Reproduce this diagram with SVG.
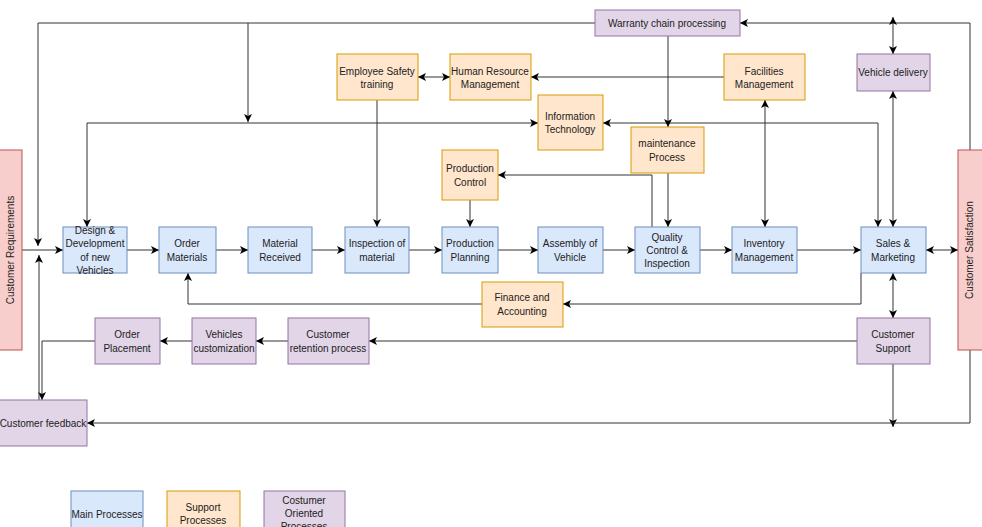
<svg xmlns="http://www.w3.org/2000/svg" width="982" height="527" viewBox="0 0 982 527">
<style>
text{font-family:"Liberation Sans",Arial,sans-serif;font-size:10px;fill:#222;text-anchor:middle}
.main{fill:#dae8fc;stroke:#6c8ebf}
.sup{fill:#ffe6cc;stroke:#d79b00}
.cust{fill:#e1d5e7;stroke:#9673a6}
.edge{fill:#f8cecc;stroke:#b85450}
.c{fill:none;stroke:#333;stroke-width:1}
.a{marker-end:url(#ar)}
.b{marker-start:url(#ar);marker-end:url(#ar)}
</style>
<defs>
<marker id="ar" viewBox="0 0 8 8" refX="8" refY="4" markerWidth="8" markerHeight="8" markerUnits="userSpaceOnUse" orient="auto-start-reverse">
<path d="M0,0 L8,4 L0,8 L2,4 z" fill="#000"/>
</marker>
</defs>
<rect width="982" height="527" fill="#fff"/>
<g id="connectors">
<path class="c a" d="M595,23 L38,23 L38,246"/>
<path class="c a" d="M248,23 L248,122"/>
<path class="c b" d="M87,227 L87,123 L538,123"/>
<path class="c b" d="M603,123 L878,123 L878,227"/>
<path class="c a" d="M668,36 L668,127"/>
<path class="c a" d="M970,150 L970,23 L740,23"/>
<path class="c b" d="M893,17 L893,54"/>
<path class="c b" d="M893,91 L893,227"/>
<path class="c a" d="M724,77 L531,77"/>
<path class="c b" d="M418,77 L450,77"/>
<path class="c a" d="M377,100 L377,227"/>
<path class="c b" d="M765,100 L765,227"/>
<path class="c a" d="M668,173 L668,227"/>
<path class="c a" d="M652,227 L652,175 L498,175"/>
<path class="c a" d="M470,200 L470,227"/>
<path class="c a" d="M22,250 L63,250"/>
<path class="c a" d="M127,250 L159,250"/>
<path class="c a" d="M216,250 L248,250"/>
<path class="c a" d="M312,250 L345,250"/>
<path class="c a" d="M409,250 L442,250"/>
<path class="c a" d="M498,250 L538,250"/>
<path class="c a" d="M603,250 L635,250"/>
<path class="c a" d="M700,250 L732,250"/>
<path class="c a" d="M797,250 L861,250"/>
<path class="c b" d="M926,250 L958,250"/>
<path class="c a" d="M861,273 L861,304 L563,304"/>
<path class="c a" d="M482,304 L188,304 L188,273"/>
<path class="c b" d="M893,273 L893,318"/>
<path class="c a" d="M857,341 L369,341"/>
<path class="c a" d="M288,341 L256,341"/>
<path class="c a" d="M192,341 L160,341"/>
<path class="c a" d="M95,341 L42,341 L42,400"/>
<path class="c a" d="M39,400 L39,255"/>
<path class="c a" d="M893,364 L893,427"/>
<path class="c a" d="M970,350 L970,423 L87,423"/>
</g>
<g id="customer-requirements"><rect class="edge" x="-1" y="150" width="23" height="200"/><text transform="translate(14,250) rotate(-90)">Customer Requirements</text></g>
<g id="customer-satisfaction"><rect class="edge" x="958" y="150" width="25" height="200"/><text transform="translate(973,250) rotate(-90)">Customer Satisfaction</text></g>
<g id="warranty"><rect class="cust" x="595" y="10" width="145" height="26"/><text x="667" y="26.5">Warranty chain processing</text></g>
<g id="employee-safety"><rect class="sup" x="337" y="54" width="81" height="46"/><text x="377" y="74.5">Employee Safety</text><text x="377" y="87.5">training</text></g>
<g id="hr"><rect class="sup" x="450" y="54" width="81" height="46"/><text x="490" y="74.5">Human Resource</text><text x="490" y="87.5">Management</text></g>
<g id="facilities"><rect class="sup" x="724" y="54" width="81" height="46"/><text x="764" y="74.5">Facilities</text><text x="764" y="87.5">Management</text></g>
<g id="vehicle-delivery"><rect class="cust" x="857" y="54" width="73" height="37"/><text x="893" y="75.5">Vehicle delivery</text></g>
<g id="it"><rect class="sup" x="538" y="95" width="65" height="55"/><text x="570" y="119.5">Information</text><text x="570" y="132.5">Technology</text></g>
<g id="maintenance"><rect class="sup" x="631" y="127" width="73" height="46"/><text x="667" y="146.5">maintenance</text><text x="667" y="160.5">Process</text></g>
<g id="production-control"><rect class="sup" x="442" y="150" width="56" height="50"/><text x="470" y="171.5">Production</text><text x="470" y="185.5">Control</text></g>
<g id="design"><rect class="main" x="63" y="227" width="64" height="46"/><text x="95" y="233.5">Design &amp;</text><text x="95" y="246.5">Development</text><text x="95" y="260.5">of new</text><text x="95" y="273.5">Vehicles</text></g>
<g id="order-materials"><rect class="main" x="159" y="227" width="57" height="46"/><text x="187" y="246.5">Order</text><text x="187" y="260.5">Materials</text></g>
<g id="material-received"><rect class="main" x="248" y="227" width="64" height="46"/><text x="280" y="246.5">Material</text><text x="280" y="260.5">Received</text></g>
<g id="inspection"><rect class="main" x="345" y="227" width="64" height="46"/><text x="377" y="246.5">Inspection of</text><text x="377" y="260.5">material</text></g>
<g id="production-planning"><rect class="main" x="442" y="227" width="56" height="46"/><text x="470" y="246.5">Production</text><text x="470" y="260.5">Planning</text></g>
<g id="assembly"><rect class="main" x="538" y="227" width="65" height="46"/><text x="570" y="246.5">Assembly of</text><text x="570" y="260.5">Vehicle</text></g>
<g id="quality"><rect class="main" x="635" y="227" width="65" height="46"/><text x="667" y="240.5">Quality</text><text x="667" y="253.5">Control &amp;</text><text x="667" y="266.5">Inspection</text></g>
<g id="inventory"><rect class="main" x="732" y="227" width="65" height="46"/><text x="764" y="246.5">Inventory</text><text x="764" y="260.5">Management</text></g>
<g id="sales"><rect class="main" x="861" y="227" width="65" height="46"/><text x="893" y="246.5">Sales &amp;</text><text x="893" y="260.5">Marketing</text></g>
<g id="finance"><rect class="sup" x="482" y="282" width="81" height="45"/><text x="522" y="300.5">Finance and</text><text x="522" y="314.5">Accounting</text></g>
<g id="order-placement"><rect class="cust" x="95" y="318" width="65" height="46"/><text x="127" y="337.5">Order</text><text x="127" y="351.5">Placement</text></g>
<g id="vehicles-customization"><rect class="cust" x="192" y="318" width="64" height="46"/><text x="224" y="337.5">Vehicles</text><text x="224" y="351.5">customization</text></g>
<g id="customer-retention"><rect class="cust" x="288" y="318" width="81" height="46"/><text x="328" y="337.5">Customer</text><text x="328" y="351.5">retention process</text></g>
<g id="customer-support"><rect class="cust" x="857" y="318" width="73" height="46"/><text x="893" y="337.5">Customer</text><text x="893" y="351.5">Support</text></g>
<g id="customer-feedback"><rect class="cust" x="-1" y="400" width="88" height="46"/><text x="43" y="426.5">Customer feedback</text></g>
<g id="legend-main"><rect class="main" x="71" y="491" width="72" height="46"/><text x="107" y="517.5">Main Processes</text></g>
<g id="legend-support"><rect class="sup" x="167" y="491" width="73" height="46"/><text x="203" y="510.5">Support</text><text x="203" y="523.5">Processes</text></g>
<g id="legend-customer"><rect class="cust" x="264" y="491" width="81" height="46"/><text x="304" y="503.5">Costumer</text><text x="304" y="516.5">Oriented</text><text x="304" y="529.5">Processes</text></g>
</svg>
